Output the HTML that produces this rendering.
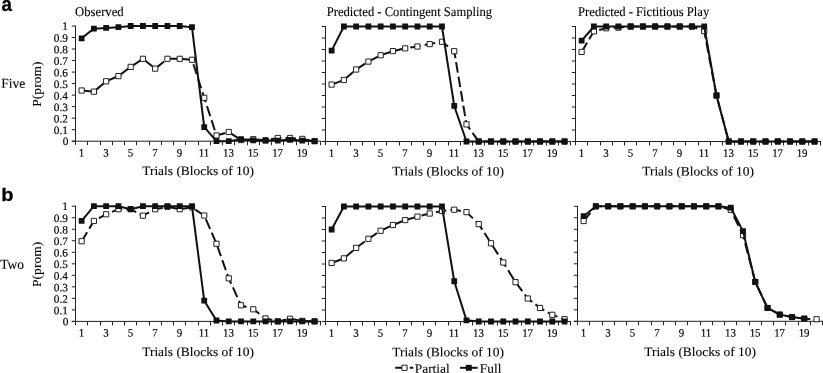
<!DOCTYPE html>
<html><head><meta charset="utf-8"><title>Figure</title>
<style>
html,body{margin:0;padding:0;background:#fff;}
body{width:823px;height:373px;overflow:hidden;}
svg{display:block;}
text{font-family:"Liberation Serif","Times New Roman",serif;fill:#000;stroke:#000;stroke-width:0.1px;}
.t10{font-size:11px;stroke:#000;stroke-width:0.15px;}
.t13{font-size:13.45px;}
.t125{font-size:12.6px;}
.t131{font-size:13.5px;}
.lab{font-family:"Liberation Sans",Arial,sans-serif;font-weight:bold;font-size:19px;fill:#000;stroke:#000;stroke-width:0.25px;}
.ax{stroke:#222;stroke-width:1;fill:none;}
.ln{stroke:#111;stroke-width:2;fill:none;stroke-linejoin:round;}
.mp{fill:#fff;stroke:#222;stroke-width:1;}
.mf{fill:#111;stroke:none;}
</style></head><body>
<svg width="823" height="373" viewBox="0 0 823 373">
<rect width="823" height="373" fill="#fff"/>
<text transform="translate(1.5 10.9) scale(0.99 1.1)" class="lab">a</text>
<text transform="translate(1.3 201.2) scale(1.06 1)" class="lab">b</text>
<text transform="translate(75 15.9) rotate(0.03) scale(1.01 1.06)" class="t125">Observed</text>
<text transform="translate(326.7 15.9) rotate(0.03) scale(1 1.06)" class="t125">Predicted - Contingent Sampling</text>
<text transform="translate(578.1 15.9) rotate(0.03) scale(1 1.06)" class="t125">Predicted - Fictitious Play</text>
<text transform="translate(1.3 87.7) rotate(0.03)" class="t131">Five</text>
<text transform="translate(0.3 268.7) rotate(0.03)" class="t131">Two</text>
<path d="M75.5 25.5V144.9M71.8 141.2H321" class="ax"/>
<path d="M71.8 26H75.5M71.8 37.52H75.5M71.8 49.04H75.5M71.8 60.56H75.5M71.8 72.08H75.5M71.8 83.6H75.5M71.8 95.12H75.5M71.8 106.64H75.5M71.8 118.16H75.5M71.8 129.68H75.5M71.8 141.2H75.5M87.5 141.2V145.2M100.5 141.2V145.2M112.5 141.2V145.2M124.5 141.2V145.2M136.5 141.2V145.2M149.5 141.2V145.2M161.5 141.2V145.2M173.5 141.2V145.2M185.5 141.2V145.2M198.5 141.2V145.2M210.5 141.2V145.2M222.5 141.2V145.2M234.5 141.2V145.2M247.5 141.2V145.2M259.5 141.2V145.2M271.5 141.2V145.2M283.5 141.2V145.2M296.5 141.2V145.2M308.5 141.2V145.2M320.5 141.2V145.2" class="ax"/>
<path d="M81.63 90.51L93.89 91.66L106.15 81.3L118.41 76.11L130.67 66.9L142.93 58.83L155.19 68.62L167.45 58.83L179.71 58.83L191.97 59.75L204.23 97.77L216.49 135.44L228.75 131.98L241.01 140.05L253.27 139.24L265.53 140.28L277.79 137.97L290.05 137.97L302.31 138.9L314.57 141.2" class="ln" stroke-dasharray="10.6 4.1" stroke-dashoffset="0"/>
<path d="M79.03 87.91h5.2v5.2h-5.2zM91.29 89.06h5.2v5.2h-5.2zM103.55 78.7h5.2v5.2h-5.2zM115.81 73.51h5.2v5.2h-5.2zM128.07 64.3h5.2v5.2h-5.2zM140.33 56.23h5.2v5.2h-5.2zM152.59 66.02h5.2v5.2h-5.2zM164.85 56.23h5.2v5.2h-5.2zM177.11 56.23h5.2v5.2h-5.2zM189.37 57.15h5.2v5.2h-5.2zM201.63 95.17h5.2v5.2h-5.2zM213.89 132.84h5.2v5.2h-5.2zM226.15 129.38h5.2v5.2h-5.2zM238.41 137.45h5.2v5.2h-5.2zM250.67 136.64h5.2v5.2h-5.2zM262.93 137.68h5.2v5.2h-5.2zM275.19 135.37h5.2v5.2h-5.2zM287.45 135.37h5.2v5.2h-5.2zM299.71 136.3h5.2v5.2h-5.2zM311.97 138.6h5.2v5.2h-5.2z" class="mp"/>
<path d="M81.63 38.33L93.89 28.65L106.15 27.96L118.41 27.15L130.67 26L142.93 26L155.19 26L167.45 26L179.71 26L191.97 27.15L204.23 127.03L216.49 141.2L228.75 141.2L241.01 139.24L253.27 140.39L265.53 140.62L277.79 140.62L290.05 139.82L302.31 140.62L314.57 141.2" class="ln"/>
<path d="M78.73 35.43h5.8v5.8h-5.8zM90.99 25.75h5.8v5.8h-5.8zM103.25 25.06h5.8v5.8h-5.8zM115.51 24.25h5.8v5.8h-5.8zM127.77 23.1h5.8v5.8h-5.8zM140.03 23.1h5.8v5.8h-5.8zM152.29 23.1h5.8v5.8h-5.8zM164.55 23.1h5.8v5.8h-5.8zM176.81 23.1h5.8v5.8h-5.8zM189.07 24.25h5.8v5.8h-5.8zM201.33 124.13h5.8v5.8h-5.8zM213.59 138.3h5.8v5.8h-5.8zM225.85 138.3h5.8v5.8h-5.8zM238.11 136.34h5.8v5.8h-5.8zM250.37 137.49h5.8v5.8h-5.8zM262.63 137.72h5.8v5.8h-5.8zM274.89 137.72h5.8v5.8h-5.8zM287.15 136.92h5.8v5.8h-5.8zM299.41 137.72h5.8v5.8h-5.8zM311.67 138.3h5.8v5.8h-5.8z" class="mf"/>
<text transform="translate(81.43 156.4) rotate(0.03) scale(0.99 1.02)" class="t10" text-anchor="middle">1</text>
<text transform="translate(105.95 156.4) rotate(0.03) scale(0.99 1.02)" class="t10" text-anchor="middle">3</text>
<text transform="translate(130.47 156.4) rotate(0.03) scale(0.99 1.02)" class="t10" text-anchor="middle">5</text>
<text transform="translate(154.99 156.4) rotate(0.03) scale(0.99 1.02)" class="t10" text-anchor="middle">7</text>
<text transform="translate(179.51 156.4) rotate(0.03) scale(0.99 1.02)" class="t10" text-anchor="middle">9</text>
<text transform="translate(204.03 156.4) rotate(0.03) scale(0.99 1.02)" class="t10" text-anchor="middle">11</text>
<text transform="translate(228.55 156.4) rotate(0.03) scale(0.99 1.02)" class="t10" text-anchor="middle">13</text>
<text transform="translate(253.07 156.4) rotate(0.03) scale(0.99 1.02)" class="t10" text-anchor="middle">15</text>
<text transform="translate(277.59 156.4) rotate(0.03) scale(0.99 1.02)" class="t10" text-anchor="middle">17</text>
<text transform="translate(302.11 156.4) rotate(0.03) scale(0.99 1.02)" class="t10" text-anchor="middle">19</text>
<text transform="translate(198.1 175.1) rotate(0.03) scale(1 0.96)" class="t13" text-anchor="middle">Trials (Blocks of 10)</text>
<text transform="translate(68 29.7) rotate(0.03) scale(1.03 1.02)" class="t10" text-anchor="end">1</text>
<text transform="translate(68 41.82) rotate(0.03) scale(1.03 1.02)" class="t10" text-anchor="end">0.9</text>
<text transform="translate(68 53.34) rotate(0.03) scale(1.03 1.02)" class="t10" text-anchor="end">0.8</text>
<text transform="translate(68 64.86) rotate(0.03) scale(1.03 1.02)" class="t10" text-anchor="end">0.7</text>
<text transform="translate(68 76.38) rotate(0.03) scale(1.03 1.02)" class="t10" text-anchor="end">0.6</text>
<text transform="translate(68 87.9) rotate(0.03) scale(1.03 1.02)" class="t10" text-anchor="end">0.5</text>
<text transform="translate(68 99.42) rotate(0.03) scale(1.03 1.02)" class="t10" text-anchor="end">0.4</text>
<text transform="translate(68 110.94) rotate(0.03) scale(1.03 1.02)" class="t10" text-anchor="end">0.3</text>
<text transform="translate(68 122.46) rotate(0.03) scale(1.03 1.02)" class="t10" text-anchor="end">0.2</text>
<text transform="translate(68 133.98) rotate(0.03) scale(1.03 1.02)" class="t10" text-anchor="end">0.1</text>
<text transform="translate(68.5 145.1) rotate(0.03) scale(1.03 1.02)" class="t10" text-anchor="end">0</text>
<text transform="translate(40.8 84.1) rotate(-90)" class="t131" style="letter-spacing:0.06px" text-anchor="middle">P(prom)</text>
<path d="M325.5 26V145.2M321.8 141.5H571" class="ax"/>
<path d="M321.8 26.5H325.5M321.8 38H325.5M321.8 49.5H325.5M321.8 61H325.5M321.8 72.5H325.5M321.8 84H325.5M321.8 95.5H325.5M321.8 107H325.5M321.8 118.5H325.5M321.8 130H325.5M321.8 141.5H325.5M337.5 141.5V145.5M350.5 141.5V145.5M362.5 141.5V145.5M374.5 141.5V145.5M386.5 141.5V145.5M399.5 141.5V145.5M411.5 141.5V145.5M423.5 141.5V145.5M435.5 141.5V145.5M448.5 141.5V145.5M460.5 141.5V145.5M472.5 141.5V145.5M484.5 141.5V145.5M497.5 141.5V145.5M509.5 141.5V145.5M521.5 141.5V145.5M533.5 141.5V145.5M546.5 141.5V145.5M558.5 141.5V145.5M570.5 141.5V145.5" class="ax"/>
<path d="M331.63 84.58L343.89 79.97L356.15 69.51L368.41 61.58L380.67 55.25L392.93 51.11L405.19 48.35L417.45 46.51L429.71 44.09L441.97 41.8L454.23 51.22L466.49 124.37L478.75 141.5L491.01 141.5L503.27 141.5L515.53 141.5L527.79 141.5L540.05 141.5L552.31 141.5L564.57 141.5" class="ln" stroke-dasharray="10.6 4.1" stroke-dashoffset="0"/>
<path d="M329.03 81.98h5.2v5.2h-5.2zM341.29 77.38h5.2v5.2h-5.2zM353.55 66.91h5.2v5.2h-5.2zM365.81 58.98h5.2v5.2h-5.2zM378.07 52.65h5.2v5.2h-5.2zM390.33 48.51h5.2v5.2h-5.2zM402.59 45.75h5.2v5.2h-5.2zM414.85 43.91h5.2v5.2h-5.2zM427.11 41.49h5.2v5.2h-5.2zM439.37 39.2h5.2v5.2h-5.2zM451.63 48.62h5.2v5.2h-5.2zM463.89 121.77h5.2v5.2h-5.2zM476.15 138.9h5.2v5.2h-5.2zM488.41 138.9h5.2v5.2h-5.2zM500.67 138.9h5.2v5.2h-5.2zM512.93 138.9h5.2v5.2h-5.2zM525.19 138.9h5.2v5.2h-5.2zM537.45 138.9h5.2v5.2h-5.2zM549.71 138.9h5.2v5.2h-5.2zM561.97 138.9h5.2v5.2h-5.2z" class="mp"/>
<path d="M331.63 50.65L343.89 26.5L356.15 26.5L368.41 26.5L380.67 26.5L392.93 26.5L405.19 26.5L417.45 26.5L429.71 26.5L441.97 26.5L454.23 105.97L466.49 141.5L478.75 141.5L491.01 141.5L503.27 141.5L515.53 141.5L527.79 141.5L540.05 141.5L552.31 141.5L564.57 141.5" class="ln"/>
<path d="M328.73 47.75h5.8v5.8h-5.8zM340.99 23.6h5.8v5.8h-5.8zM353.25 23.6h5.8v5.8h-5.8zM365.51 23.6h5.8v5.8h-5.8zM377.77 23.6h5.8v5.8h-5.8zM390.03 23.6h5.8v5.8h-5.8zM402.29 23.6h5.8v5.8h-5.8zM414.55 23.6h5.8v5.8h-5.8zM426.81 23.6h5.8v5.8h-5.8zM439.07 23.6h5.8v5.8h-5.8zM451.33 103.06h5.8v5.8h-5.8zM463.59 138.6h5.8v5.8h-5.8zM475.85 138.6h5.8v5.8h-5.8zM488.11 138.6h5.8v5.8h-5.8zM500.37 138.6h5.8v5.8h-5.8zM512.63 138.6h5.8v5.8h-5.8zM524.89 138.6h5.8v5.8h-5.8zM537.15 138.6h5.8v5.8h-5.8zM549.41 138.6h5.8v5.8h-5.8zM561.67 138.6h5.8v5.8h-5.8z" class="mf"/>
<text transform="translate(331.43 156.7) rotate(0.03) scale(0.99 1.02)" class="t10" text-anchor="middle">1</text>
<text transform="translate(355.95 156.7) rotate(0.03) scale(0.99 1.02)" class="t10" text-anchor="middle">3</text>
<text transform="translate(380.47 156.7) rotate(0.03) scale(0.99 1.02)" class="t10" text-anchor="middle">5</text>
<text transform="translate(404.99 156.7) rotate(0.03) scale(0.99 1.02)" class="t10" text-anchor="middle">7</text>
<text transform="translate(429.51 156.7) rotate(0.03) scale(0.99 1.02)" class="t10" text-anchor="middle">9</text>
<text transform="translate(454.03 156.7) rotate(0.03) scale(0.99 1.02)" class="t10" text-anchor="middle">11</text>
<text transform="translate(478.55 156.7) rotate(0.03) scale(0.99 1.02)" class="t10" text-anchor="middle">13</text>
<text transform="translate(503.07 156.7) rotate(0.03) scale(0.99 1.02)" class="t10" text-anchor="middle">15</text>
<text transform="translate(527.59 156.7) rotate(0.03) scale(0.99 1.02)" class="t10" text-anchor="middle">17</text>
<text transform="translate(552.11 156.7) rotate(0.03) scale(0.99 1.02)" class="t10" text-anchor="middle">19</text>
<text transform="translate(448.1 175.4) rotate(0.03) scale(1 0.96)" class="t13" text-anchor="middle">Trials (Blocks of 10)</text>
<path d="M575.5 26V145.2M571.8 141.5H821" class="ax"/>
<path d="M571.8 26.5H575.5M571.8 38H575.5M571.8 49.5H575.5M571.8 61H575.5M571.8 72.5H575.5M571.8 84H575.5M571.8 95.5H575.5M571.8 107H575.5M571.8 118.5H575.5M571.8 130H575.5M571.8 141.5H575.5M587.5 141.5V145.5M600.5 141.5V145.5M612.5 141.5V145.5M624.5 141.5V145.5M636.5 141.5V145.5M649.5 141.5V145.5M661.5 141.5V145.5M673.5 141.5V145.5M685.5 141.5V145.5M698.5 141.5V145.5M710.5 141.5V145.5M722.5 141.5V145.5M734.5 141.5V145.5M747.5 141.5V145.5M759.5 141.5V145.5M771.5 141.5V145.5M783.5 141.5V145.5M796.5 141.5V145.5M808.5 141.5V145.5M820.5 141.5V145.5" class="ax"/>
<path d="M581.63 51.91L593.89 31.33L606.15 28.23L618.41 27.65L630.67 26.5L642.93 26.5L655.19 26.5L667.45 26.5L679.71 26.5L691.97 26.5L704.23 31.1L716.49 95.5L728.75 141.5L741.01 141.5L753.27 141.5L765.53 141.5L777.79 141.5L790.05 141.5L802.31 141.5L814.57 141.5" class="ln" stroke-dasharray="10.6 4.1" stroke-dashoffset="0"/>
<path d="M579.03 49.31h5.2v5.2h-5.2zM591.29 28.73h5.2v5.2h-5.2zM603.55 25.63h5.2v5.2h-5.2zM615.81 25.05h5.2v5.2h-5.2zM628.07 23.9h5.2v5.2h-5.2zM640.33 23.9h5.2v5.2h-5.2zM652.59 23.9h5.2v5.2h-5.2zM664.85 23.9h5.2v5.2h-5.2zM677.11 23.9h5.2v5.2h-5.2zM689.37 23.9h5.2v5.2h-5.2zM701.63 28.5h5.2v5.2h-5.2zM713.89 92.9h5.2v5.2h-5.2zM726.15 138.9h5.2v5.2h-5.2zM738.41 138.9h5.2v5.2h-5.2zM750.67 138.9h5.2v5.2h-5.2zM762.93 138.9h5.2v5.2h-5.2zM775.19 138.9h5.2v5.2h-5.2zM787.45 138.9h5.2v5.2h-5.2zM799.71 138.9h5.2v5.2h-5.2zM811.97 138.9h5.2v5.2h-5.2z" class="mp"/>
<path d="M581.63 40.64L593.89 26.5L606.15 26.5L618.41 26.5L630.67 26.5L642.93 26.5L655.19 26.5L667.45 26.5L679.71 26.5L691.97 26.5L704.23 26.5L716.49 95.5L728.75 141.5L741.01 141.5L753.27 141.5L765.53 141.5L777.79 141.5L790.05 141.5L802.31 141.5L814.57 141.5" class="ln"/>
<path d="M578.73 37.74h5.8v5.8h-5.8zM590.99 23.6h5.8v5.8h-5.8zM603.25 23.6h5.8v5.8h-5.8zM615.51 23.6h5.8v5.8h-5.8zM627.77 23.6h5.8v5.8h-5.8zM640.03 23.6h5.8v5.8h-5.8zM652.29 23.6h5.8v5.8h-5.8zM664.55 23.6h5.8v5.8h-5.8zM676.81 23.6h5.8v5.8h-5.8zM689.07 23.6h5.8v5.8h-5.8zM701.33 23.6h5.8v5.8h-5.8zM713.59 92.6h5.8v5.8h-5.8zM725.85 138.6h5.8v5.8h-5.8zM738.11 138.6h5.8v5.8h-5.8zM750.37 138.6h5.8v5.8h-5.8zM762.63 138.6h5.8v5.8h-5.8zM774.89 138.6h5.8v5.8h-5.8zM787.15 138.6h5.8v5.8h-5.8zM799.41 138.6h5.8v5.8h-5.8zM811.67 138.6h5.8v5.8h-5.8z" class="mf"/>
<text transform="translate(581.43 156.7) rotate(0.03) scale(0.99 1.02)" class="t10" text-anchor="middle">1</text>
<text transform="translate(605.95 156.7) rotate(0.03) scale(0.99 1.02)" class="t10" text-anchor="middle">3</text>
<text transform="translate(630.47 156.7) rotate(0.03) scale(0.99 1.02)" class="t10" text-anchor="middle">5</text>
<text transform="translate(654.99 156.7) rotate(0.03) scale(0.99 1.02)" class="t10" text-anchor="middle">7</text>
<text transform="translate(679.51 156.7) rotate(0.03) scale(0.99 1.02)" class="t10" text-anchor="middle">9</text>
<text transform="translate(704.03 156.7) rotate(0.03) scale(0.99 1.02)" class="t10" text-anchor="middle">11</text>
<text transform="translate(728.55 156.7) rotate(0.03) scale(0.99 1.02)" class="t10" text-anchor="middle">13</text>
<text transform="translate(753.07 156.7) rotate(0.03) scale(0.99 1.02)" class="t10" text-anchor="middle">15</text>
<text transform="translate(777.59 156.7) rotate(0.03) scale(0.99 1.02)" class="t10" text-anchor="middle">17</text>
<text transform="translate(802.11 156.7) rotate(0.03) scale(0.99 1.02)" class="t10" text-anchor="middle">19</text>
<text transform="translate(698.1 175.4) rotate(0.03) scale(1 0.96)" class="t13" text-anchor="middle">Trials (Blocks of 10)</text>
<path d="M75.5 205.7V325.1M71.8 321.4H321" class="ax"/>
<path d="M71.8 206.2H75.5M71.8 217.72H75.5M71.8 229.24H75.5M71.8 240.76H75.5M71.8 252.28H75.5M71.8 263.8H75.5M71.8 275.32H75.5M71.8 286.84H75.5M71.8 298.36H75.5M71.8 309.88H75.5M71.8 321.4H75.5M87.5 321.4V325.4M100.5 321.4V325.4M112.5 321.4V325.4M124.5 321.4V325.4M136.5 321.4V325.4M149.5 321.4V325.4M161.5 321.4V325.4M173.5 321.4V325.4M185.5 321.4V325.4M198.5 321.4V325.4M210.5 321.4V325.4M222.5 321.4V325.4M234.5 321.4V325.4M247.5 321.4V325.4M259.5 321.4V325.4M271.5 321.4V325.4M283.5 321.4V325.4M296.5 321.4V325.4M308.5 321.4V325.4M320.5 321.4V325.4" class="ax"/>
<path d="M81.63 241.22L93.89 220.95L106.15 214.26L118.41 209.2L130.67 209.2L142.93 215.65L155.19 209.2L167.45 206.78L179.71 209.2L191.97 207.35L204.23 215.53L216.49 243.76L228.75 278.32L241.01 305.27L253.27 309.3L265.53 318.4L277.79 321.4L290.05 318.75L302.31 320.82L314.57 321.4" class="ln" stroke-dasharray="10.6 4.1" stroke-dashoffset="0"/>
<path d="M79.03 238.62h5.2v5.2h-5.2zM91.29 218.35h5.2v5.2h-5.2zM103.55 211.66h5.2v5.2h-5.2zM115.81 206.6h5.2v5.2h-5.2zM128.07 206.6h5.2v5.2h-5.2zM140.33 213.05h5.2v5.2h-5.2zM152.59 206.6h5.2v5.2h-5.2zM164.85 204.18h5.2v5.2h-5.2zM177.11 206.6h5.2v5.2h-5.2zM189.37 204.75h5.2v5.2h-5.2zM201.63 212.93h5.2v5.2h-5.2zM213.89 241.16h5.2v5.2h-5.2zM226.15 275.72h5.2v5.2h-5.2zM238.41 302.67h5.2v5.2h-5.2zM250.67 306.7h5.2v5.2h-5.2zM262.93 315.8h5.2v5.2h-5.2zM275.19 318.8h5.2v5.2h-5.2zM287.45 316.15h5.2v5.2h-5.2zM299.71 318.22h5.2v5.2h-5.2zM311.97 318.8h5.2v5.2h-5.2z" class="mp"/>
<path d="M81.63 220.95L93.89 206.2L106.15 206.2L118.41 206.2L130.67 209.2L142.93 206.2L155.19 206.2L167.45 206.2L179.71 206.2L191.97 206.2L204.23 300.66L216.49 320.48L228.75 321.4L241.01 321.4L253.27 321.4L265.53 321.4L277.79 321.4L290.05 321.4L302.31 321.4L314.57 321.4" class="ln"/>
<path d="M78.73 218.05h5.8v5.8h-5.8zM90.99 203.3h5.8v5.8h-5.8zM103.25 203.3h5.8v5.8h-5.8zM115.51 203.3h5.8v5.8h-5.8zM127.77 206.3h5.8v5.8h-5.8zM140.03 203.3h5.8v5.8h-5.8zM152.29 203.3h5.8v5.8h-5.8zM164.55 203.3h5.8v5.8h-5.8zM176.81 203.3h5.8v5.8h-5.8zM189.07 203.3h5.8v5.8h-5.8zM201.33 297.76h5.8v5.8h-5.8zM213.59 317.58h5.8v5.8h-5.8zM225.85 318.5h5.8v5.8h-5.8zM238.11 318.5h5.8v5.8h-5.8zM250.37 318.5h5.8v5.8h-5.8zM262.63 318.5h5.8v5.8h-5.8zM274.89 318.5h5.8v5.8h-5.8zM287.15 318.5h5.8v5.8h-5.8zM299.41 318.5h5.8v5.8h-5.8zM311.67 318.5h5.8v5.8h-5.8z" class="mf"/>
<text transform="translate(81.43 336.6) rotate(0.03) scale(0.99 1.02)" class="t10" text-anchor="middle">1</text>
<text transform="translate(105.95 336.6) rotate(0.03) scale(0.99 1.02)" class="t10" text-anchor="middle">3</text>
<text transform="translate(130.47 336.6) rotate(0.03) scale(0.99 1.02)" class="t10" text-anchor="middle">5</text>
<text transform="translate(154.99 336.6) rotate(0.03) scale(0.99 1.02)" class="t10" text-anchor="middle">7</text>
<text transform="translate(179.51 336.6) rotate(0.03) scale(0.99 1.02)" class="t10" text-anchor="middle">9</text>
<text transform="translate(204.03 336.6) rotate(0.03) scale(0.99 1.02)" class="t10" text-anchor="middle">11</text>
<text transform="translate(228.55 336.6) rotate(0.03) scale(0.99 1.02)" class="t10" text-anchor="middle">13</text>
<text transform="translate(253.07 336.6) rotate(0.03) scale(0.99 1.02)" class="t10" text-anchor="middle">15</text>
<text transform="translate(277.59 336.6) rotate(0.03) scale(0.99 1.02)" class="t10" text-anchor="middle">17</text>
<text transform="translate(302.11 336.6) rotate(0.03) scale(0.99 1.02)" class="t10" text-anchor="middle">19</text>
<text transform="translate(198.1 356.1) rotate(0.03) scale(1 0.96)" class="t13" text-anchor="middle">Trials (Blocks of 10)</text>
<text transform="translate(68 209.9) rotate(0.03) scale(1.03 1.02)" class="t10" text-anchor="end">1</text>
<text transform="translate(68 222.02) rotate(0.03) scale(1.03 1.02)" class="t10" text-anchor="end">0.9</text>
<text transform="translate(68 233.54) rotate(0.03) scale(1.03 1.02)" class="t10" text-anchor="end">0.8</text>
<text transform="translate(68 245.06) rotate(0.03) scale(1.03 1.02)" class="t10" text-anchor="end">0.7</text>
<text transform="translate(68 256.58) rotate(0.03) scale(1.03 1.02)" class="t10" text-anchor="end">0.6</text>
<text transform="translate(68 268.1) rotate(0.03) scale(1.03 1.02)" class="t10" text-anchor="end">0.5</text>
<text transform="translate(68 279.62) rotate(0.03) scale(1.03 1.02)" class="t10" text-anchor="end">0.4</text>
<text transform="translate(68 291.14) rotate(0.03) scale(1.03 1.02)" class="t10" text-anchor="end">0.3</text>
<text transform="translate(68 302.66) rotate(0.03) scale(1.03 1.02)" class="t10" text-anchor="end">0.2</text>
<text transform="translate(68 314.18) rotate(0.03) scale(1.03 1.02)" class="t10" text-anchor="end">0.1</text>
<text transform="translate(68.5 325.3) rotate(0.03) scale(1.03 1.02)" class="t10" text-anchor="end">0</text>
<text transform="translate(40.8 264.3) rotate(-90)" class="t131" style="letter-spacing:0.06px" text-anchor="middle">P(prom)</text>
<path d="M325.5 206V325.2M321.8 321.5H571" class="ax"/>
<path d="M321.8 206.5H325.5M321.8 218H325.5M321.8 229.5H325.5M321.8 241H325.5M321.8 252.5H325.5M321.8 264H325.5M321.8 275.5H325.5M321.8 287H325.5M321.8 298.5H325.5M321.8 310H325.5M321.8 321.5H325.5M337.5 321.5V325.5M350.5 321.5V325.5M362.5 321.5V325.5M374.5 321.5V325.5M386.5 321.5V325.5M399.5 321.5V325.5M411.5 321.5V325.5M423.5 321.5V325.5M435.5 321.5V325.5M448.5 321.5V325.5M460.5 321.5V325.5M472.5 321.5V325.5M484.5 321.5V325.5M497.5 321.5V325.5M509.5 321.5V325.5M521.5 321.5V325.5M533.5 321.5V325.5M546.5 321.5V325.5M558.5 321.5V325.5M570.5 321.5V325.5" class="ax"/>
<path d="M331.63 262.96L343.89 258.37L356.15 247.9L368.41 238.81L380.67 230.76L392.93 225.01L405.19 220.07L417.45 216.62L429.71 213.51L441.97 210.99L454.23 209.72L466.49 212.13L478.75 224.09L491.01 243.3L503.27 262.5L515.53 282.17L527.79 298.5L540.05 307.93L552.31 314.83L564.57 319.2" class="ln" stroke-dasharray="10.6 4.1" stroke-dashoffset="0"/>
<path d="M329.03 260.36h5.2v5.2h-5.2zM341.29 255.77h5.2v5.2h-5.2zM353.55 245.3h5.2v5.2h-5.2zM365.81 236.22h5.2v5.2h-5.2zM378.07 228.16h5.2v5.2h-5.2zM390.33 222.41h5.2v5.2h-5.2zM402.59 217.47h5.2v5.2h-5.2zM414.85 214.02h5.2v5.2h-5.2zM427.11 210.91h5.2v5.2h-5.2zM439.37 208.39h5.2v5.2h-5.2zM451.63 207.12h5.2v5.2h-5.2zM463.89 209.53h5.2v5.2h-5.2zM476.15 221.5h5.2v5.2h-5.2zM488.41 240.7h5.2v5.2h-5.2zM500.67 259.9h5.2v5.2h-5.2zM512.93 279.57h5.2v5.2h-5.2zM525.19 295.9h5.2v5.2h-5.2zM537.45 305.33h5.2v5.2h-5.2zM549.71 312.23h5.2v5.2h-5.2zM561.97 316.6h5.2v5.2h-5.2z" class="mp"/>
<path d="M331.63 229.5L343.89 206.5L356.15 206.5L368.41 206.5L380.67 206.5L392.93 206.5L405.19 206.5L417.45 206.5L429.71 206.5L441.97 206.5L454.23 281.25L466.49 320.35L478.75 321.5L491.01 321.5L503.27 321.5L515.53 321.5L527.79 321.5L540.05 321.5L552.31 321.5L564.57 321.5" class="ln"/>
<path d="M328.73 226.6h5.8v5.8h-5.8zM340.99 203.6h5.8v5.8h-5.8zM353.25 203.6h5.8v5.8h-5.8zM365.51 203.6h5.8v5.8h-5.8zM377.77 203.6h5.8v5.8h-5.8zM390.03 203.6h5.8v5.8h-5.8zM402.29 203.6h5.8v5.8h-5.8zM414.55 203.6h5.8v5.8h-5.8zM426.81 203.6h5.8v5.8h-5.8zM439.07 203.6h5.8v5.8h-5.8zM451.33 278.35h5.8v5.8h-5.8zM463.59 317.45h5.8v5.8h-5.8zM475.85 318.6h5.8v5.8h-5.8zM488.11 318.6h5.8v5.8h-5.8zM500.37 318.6h5.8v5.8h-5.8zM512.63 318.6h5.8v5.8h-5.8zM524.89 318.6h5.8v5.8h-5.8zM537.15 318.6h5.8v5.8h-5.8zM549.41 318.6h5.8v5.8h-5.8zM561.67 318.6h5.8v5.8h-5.8z" class="mf"/>
<text transform="translate(331.43 336.7) rotate(0.03) scale(0.99 1.02)" class="t10" text-anchor="middle">1</text>
<text transform="translate(355.95 336.7) rotate(0.03) scale(0.99 1.02)" class="t10" text-anchor="middle">3</text>
<text transform="translate(380.47 336.7) rotate(0.03) scale(0.99 1.02)" class="t10" text-anchor="middle">5</text>
<text transform="translate(404.99 336.7) rotate(0.03) scale(0.99 1.02)" class="t10" text-anchor="middle">7</text>
<text transform="translate(429.51 336.7) rotate(0.03) scale(0.99 1.02)" class="t10" text-anchor="middle">9</text>
<text transform="translate(454.03 336.7) rotate(0.03) scale(0.99 1.02)" class="t10" text-anchor="middle">11</text>
<text transform="translate(478.55 336.7) rotate(0.03) scale(0.99 1.02)" class="t10" text-anchor="middle">13</text>
<text transform="translate(503.07 336.7) rotate(0.03) scale(0.99 1.02)" class="t10" text-anchor="middle">15</text>
<text transform="translate(527.59 336.7) rotate(0.03) scale(0.99 1.02)" class="t10" text-anchor="middle">17</text>
<text transform="translate(552.11 336.7) rotate(0.03) scale(0.99 1.02)" class="t10" text-anchor="middle">19</text>
<text transform="translate(448.1 356.2) rotate(0.03) scale(1 0.96)" class="t13" text-anchor="middle">Trials (Blocks of 10)</text>
<path d="M577.5 205.8V325M573.8 321.3H823" class="ax"/>
<path d="M573.8 206.3H577.5M573.8 217.8H577.5M573.8 229.3H577.5M573.8 240.8H577.5M573.8 252.3H577.5M573.8 263.8H577.5M573.8 275.3H577.5M573.8 286.8H577.5M573.8 298.3H577.5M573.8 309.8H577.5M573.8 321.3H577.5M589.5 321.3V325.3M602.5 321.3V325.3M614.5 321.3V325.3M626.5 321.3V325.3M638.5 321.3V325.3M651.5 321.3V325.3M663.5 321.3V325.3M675.5 321.3V325.3M687.5 321.3V325.3M700.5 321.3V325.3M712.5 321.3V325.3M724.5 321.3V325.3M736.5 321.3V325.3M749.5 321.3V325.3M761.5 321.3V325.3M773.5 321.3V325.3M785.5 321.3V325.3M798.5 321.3V325.3M810.5 321.3V325.3M822.5 321.3V325.3" class="ax"/>
<path d="M583.63 221.02L595.89 206.3L608.15 206.3L620.41 206.3L632.67 206.3L644.93 206.3L657.19 206.3L669.45 206.3L681.71 206.3L693.97 206.3L706.23 206.3L718.49 206.3L730.75 209.75L743.01 235.17L755.27 281.97L767.53 307.96L779.79 314.63L792.05 317.05L804.31 318.66L816.57 319.23" class="ln" stroke-dasharray="10.6 4.1" stroke-dashoffset="0"/>
<path d="M581.03 218.42h5.2v5.2h-5.2zM593.29 203.7h5.2v5.2h-5.2zM605.55 203.7h5.2v5.2h-5.2zM617.81 203.7h5.2v5.2h-5.2zM630.07 203.7h5.2v5.2h-5.2zM642.33 203.7h5.2v5.2h-5.2zM654.59 203.7h5.2v5.2h-5.2zM666.85 203.7h5.2v5.2h-5.2zM679.11 203.7h5.2v5.2h-5.2zM691.37 203.7h5.2v5.2h-5.2zM703.63 203.7h5.2v5.2h-5.2zM715.89 203.7h5.2v5.2h-5.2zM728.15 207.15h5.2v5.2h-5.2zM740.41 232.57h5.2v5.2h-5.2zM752.67 279.37h5.2v5.2h-5.2zM764.93 305.36h5.2v5.2h-5.2zM777.19 312.03h5.2v5.2h-5.2zM789.45 314.44h5.2v5.2h-5.2zM801.71 316.06h5.2v5.2h-5.2zM813.97 316.63h5.2v5.2h-5.2z" class="mp"/>
<path d="M583.63 216.19L595.89 206.3L608.15 206.3L620.41 206.3L632.67 206.3L644.93 206.3L657.19 206.3L669.45 206.3L681.71 206.3L693.97 206.3L706.23 206.3L718.49 206.3L730.75 207.68L743.01 231.14L755.27 281.97L767.53 307.96L779.79 314.63L792.05 317.05L804.31 318.66" class="ln"/>
<path d="M580.73 213.29h5.8v5.8h-5.8zM592.99 203.4h5.8v5.8h-5.8zM605.25 203.4h5.8v5.8h-5.8zM617.51 203.4h5.8v5.8h-5.8zM629.77 203.4h5.8v5.8h-5.8zM642.03 203.4h5.8v5.8h-5.8zM654.29 203.4h5.8v5.8h-5.8zM666.55 203.4h5.8v5.8h-5.8zM678.81 203.4h5.8v5.8h-5.8zM691.07 203.4h5.8v5.8h-5.8zM703.33 203.4h5.8v5.8h-5.8zM715.59 203.4h5.8v5.8h-5.8zM727.85 204.78h5.8v5.8h-5.8zM740.11 228.24h5.8v5.8h-5.8zM752.37 279.07h5.8v5.8h-5.8zM764.63 305.06h5.8v5.8h-5.8zM776.89 311.73h5.8v5.8h-5.8zM789.15 314.15h5.8v5.8h-5.8zM801.41 315.76h5.8v5.8h-5.8z" class="mf"/>
<text transform="translate(583.43 336.5) rotate(0.03) scale(0.99 1.02)" class="t10" text-anchor="middle">1</text>
<text transform="translate(607.95 336.5) rotate(0.03) scale(0.99 1.02)" class="t10" text-anchor="middle">3</text>
<text transform="translate(632.47 336.5) rotate(0.03) scale(0.99 1.02)" class="t10" text-anchor="middle">5</text>
<text transform="translate(656.99 336.5) rotate(0.03) scale(0.99 1.02)" class="t10" text-anchor="middle">7</text>
<text transform="translate(681.51 336.5) rotate(0.03) scale(0.99 1.02)" class="t10" text-anchor="middle">9</text>
<text transform="translate(706.03 336.5) rotate(0.03) scale(0.99 1.02)" class="t10" text-anchor="middle">11</text>
<text transform="translate(730.55 336.5) rotate(0.03) scale(0.99 1.02)" class="t10" text-anchor="middle">13</text>
<text transform="translate(755.07 336.5) rotate(0.03) scale(0.99 1.02)" class="t10" text-anchor="middle">15</text>
<text transform="translate(779.59 336.5) rotate(0.03) scale(0.99 1.02)" class="t10" text-anchor="middle">17</text>
<text transform="translate(804.11 336.5) rotate(0.03) scale(0.99 1.02)" class="t10" text-anchor="middle">19</text>
<text transform="translate(700.1 356) rotate(0.03) scale(1 0.96)" class="t13" text-anchor="middle">Trials (Blocks of 10)</text>
<path d="M395.2 367.8H413.3" class="ln" stroke-dasharray="12 2.6 6"/>
<path d="M401.9 365.2h5.2v5.2h-5.2z" class="mp"/>
<text transform="translate(414.7 372.7) rotate(0.03) scale(1 0.95)" class="t13">Partial</text>
<path d="M460 367.8H477.6" class="ln"/>
<path d="M465.8 364.8h6v6h-6z" class="mf"/>
<text transform="translate(479.8 372.7) rotate(0.03) scale(1 0.95)" class="t13">Full</text>
</svg>
</body></html>
